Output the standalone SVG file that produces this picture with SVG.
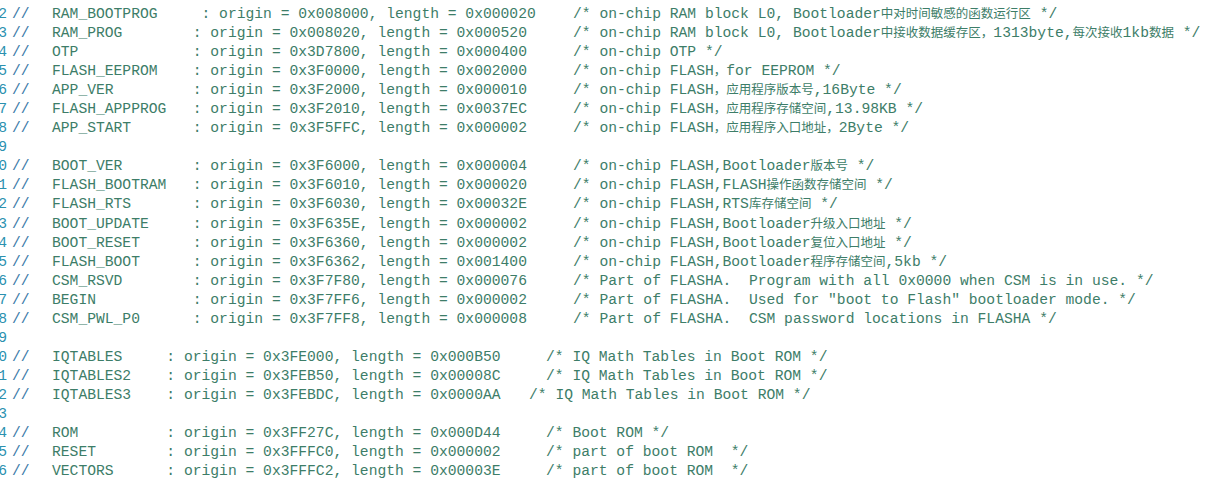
<svg xmlns="http://www.w3.org/2000/svg" width="1218" height="486" viewBox="0 0 1218 486">
<style>
text{font-family:"Liberation Mono","Noto Sans CJK SC",monospace;font-size:14.67px;white-space:pre}
.n{fill:#2b91af;text-anchor:end}
.s{fill:#3a7aa8}
.t{fill:#3d7d68}
.c{font-family:"Noto Sans CJK SC",sans-serif;font-size:12.5px}
</style>
<rect width="1218" height="486" fill="#ffffff"/>
<g id="linenos">
<text class="n" x="7" y="18">12</text><text class="n" x="7" y="37">13</text><text class="n" x="7" y="56">14</text><text class="n" x="7" y="75">15</text><text class="n" x="7" y="94">16</text><text class="n" x="7" y="113">17</text><text class="n" x="7" y="132">18</text><text class="n" x="7" y="151">19</text><text class="n" x="7" y="170">20</text><text class="n" x="7" y="189">21</text><text class="n" x="7" y="208">22</text><text class="n" x="7" y="228">23</text><text class="n" x="7" y="247">24</text><text class="n" x="7" y="266">25</text><text class="n" x="7" y="285">26</text><text class="n" x="7" y="304">27</text><text class="n" x="7" y="323">28</text><text class="n" x="7" y="342">29</text><text class="n" x="7" y="361">30</text><text class="n" x="7" y="380">31</text><text class="n" x="7" y="399">32</text><text class="n" x="7" y="418">33</text><text class="n" x="7" y="437">34</text><text class="n" x="7" y="456">35</text><text class="n" x="7" y="475">36</text>
</g>
<g id="slashes">
<text class="s" x="12" y="18">//</text><text class="s" x="12" y="37">//</text><text class="s" x="12" y="56">//</text><text class="s" x="12" y="75">//</text><text class="s" x="12" y="94">//</text><text class="s" x="12" y="113">//</text><text class="s" x="12" y="132">//</text>
<text class="s" x="12" y="170">//</text><text class="s" x="12" y="189">//</text><text class="s" x="12" y="208">//</text><text class="s" x="12" y="228">//</text><text class="s" x="12" y="247">//</text><text class="s" x="12" y="266">//</text><text class="s" x="12" y="285">//</text><text class="s" x="12" y="304">//</text><text class="s" x="12" y="323">//</text>
<text class="s" x="12" y="361">//</text><text class="s" x="12" y="380">//</text><text class="s" x="12" y="399">//</text>
<text class="s" x="12" y="437">//</text><text class="s" x="12" y="456">//</text><text class="s" x="12" y="475">//</text>
</g>
<g id="code" class="t">
<text class="t" x="52" y="18">RAM_BOOTPROG     : origin = 0x008000, length = 0x000020</text>
<text class="t" x="52" y="37">RAM_PROG        : origin = 0x008020, length = 0x000520</text>
<text class="t" x="52" y="56">OTP             : origin = 0x3D7800, length = 0x000400</text>
<text class="t" x="52" y="75">FLASH_EEPROM    : origin = 0x3F0000, length = 0x002000</text>
<text class="t" x="52" y="94">APP_VER         : origin = 0x3F2000, length = 0x000010</text>
<text class="t" x="52" y="113">FLASH_APPPROG   : origin = 0x3F2010, length = 0x0037EC</text>
<text class="t" x="52" y="132">APP_START       : origin = 0x3F5FFC, length = 0x000002</text>
<text class="t" x="52" y="170">BOOT_VER        : origin = 0x3F6000, length = 0x000004</text>
<text class="t" x="52" y="189">FLASH_BOOTRAM   : origin = 0x3F6010, length = 0x000020</text>
<text class="t" x="52" y="208">FLASH_RTS       : origin = 0x3F6030, length = 0x00032E</text>
<text class="t" x="52" y="228">BOOT_UPDATE     : origin = 0x3F635E, length = 0x000002</text>
<text class="t" x="52" y="247">BOOT_RESET      : origin = 0x3F6360, length = 0x000002</text>
<text class="t" x="52" y="266">FLASH_BOOT      : origin = 0x3F6362, length = 0x001400</text>
<text class="t" x="52" y="285">CSM_RSVD        : origin = 0x3F7F80, length = 0x000076</text>
<text class="t" x="52" y="304">BEGIN           : origin = 0x3F7FF6, length = 0x000002</text>
<text class="t" x="52" y="323">CSM_PWL_P0      : origin = 0x3F7FF8, length = 0x000008</text>
<text class="t" x="52" y="361">IQTABLES     : origin = 0x3FE000, length = 0x000B50</text>
<text class="t" x="52" y="380">IQTABLES2    : origin = 0x3FEB50, length = 0x00008C</text>
<text class="t" x="52" y="399">IQTABLES3    : origin = 0x3FEBDC, length = 0x0000AA</text>
<text class="t" x="52" y="437">ROM          : origin = 0x3FF27C, length = 0x000D44</text>
<text class="t" x="52" y="456">RESET        : origin = 0x3FFFC0, length = 0x000002</text>
<text class="t" x="52" y="475">VECTORS      : origin = 0x3FFFC2, length = 0x00003E</text>
</g>
<g id="comments">
<text class="t" x="573" y="18">/* on-chip RAM block L0, Bootloader<tspan class="c">中对时间敏感的函数运行区</tspan> */</text>
<text class="t" x="573" y="37">/* on-chip RAM block L0, Bootloader<tspan class="c">中接收数据缓存区，</tspan>1313byte,<tspan class="c">每次接收</tspan>1kb<tspan class="c">数据</tspan> */</text>
<text class="t" x="573" y="56">/* on-chip OTP */</text>
<text class="t" x="573" y="75">/* on-chip FLASH<tspan class="c">，</tspan>for EEPROM */</text>
<text class="t" x="573" y="94">/* on-chip FLASH<tspan class="c">，应用程序版本号</tspan>,16Byte */</text>
<text class="t" x="573" y="113">/* on-chip FLASH<tspan class="c">，应用程序存储空间</tspan>,13.98KB */</text>
<text class="t" x="573" y="132">/* on-chip FLASH<tspan class="c">，应用程序入口地址，</tspan>2Byte */</text>
<text class="t" x="573" y="170">/* on-chip FLASH,Bootloader<tspan class="c">版本号</tspan> */</text>
<text class="t" x="573" y="189">/* on-chip FLASH,FLASH<tspan class="c">操作函数存储空间</tspan> */</text>
<text class="t" x="573" y="208">/* on-chip FLASH,RTS<tspan class="c">库存储空间</tspan> */</text>
<text class="t" x="573" y="228">/* on-chip FLASH,Bootloader<tspan class="c">升级入口地址</tspan> */</text>
<text class="t" x="573" y="247">/* on-chip FLASH,Bootloader<tspan class="c">复位入口地址</tspan> */</text>
<text class="t" x="573" y="266">/* on-chip FLASH,Bootloader<tspan class="c">程序存储空间</tspan>,5kb */</text>
<text class="t" x="573" y="285">/* Part of FLASHA.  Program with all 0x0000 when CSM is in use. */</text>
<text class="t" x="573" y="304">/* Part of FLASHA.  Used for "boot to Flash" bootloader mode. */</text>
<text class="t" x="573" y="323">/* Part of FLASHA.  CSM password locations in FLASHA */</text>
<text class="t" x="546" y="361">/* IQ Math Tables in Boot ROM */</text>
<text class="t" x="546" y="380">/* IQ Math Tables in Boot ROM */</text>
<text class="t" x="529" y="399">/* IQ Math Tables in Boot ROM */</text>
<text class="t" x="546" y="437">/* Boot ROM */</text>
<text class="t" x="546" y="456">/* part of boot ROM  */</text>
<text class="t" x="546" y="475">/* part of boot ROM  */</text>
</g>
</svg>
